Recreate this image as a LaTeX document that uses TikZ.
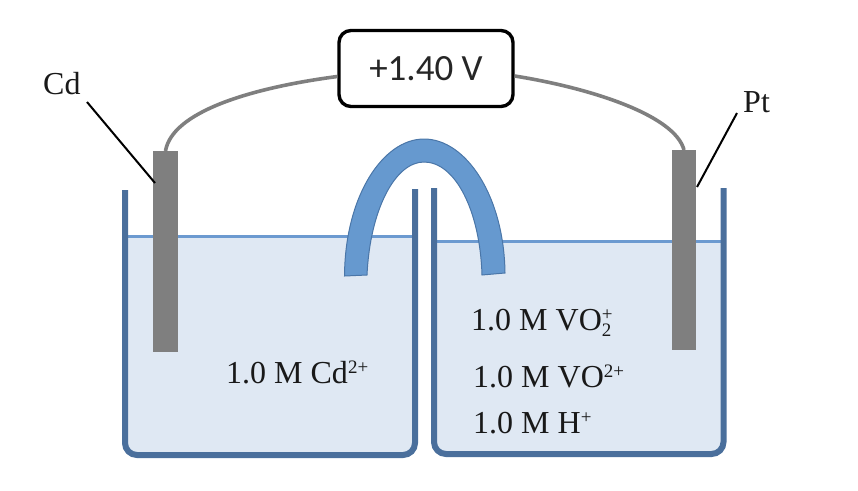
\documentclass[tikz,border=0pt]{standalone}
\usepackage{fontspec}
\setmainfont{Liberation Serif}
\newfontfamily\boxfont{Carlito}
\definecolor{wall}{HTML}{4A6F9C}
\definecolor{water}{HTML}{DFE8F3}
\definecolor{surf}{HTML}{6C9AD0}
\definecolor{bridge}{HTML}{6699CF}
\definecolor{bridgeedge}{HTML}{4A76A8}
\definecolor{metal}{HTML}{7F7F7F}
\tikzset{
 x=1pt,y=-1pt,
 beaker/.style={draw=wall,line width=6pt,rounded corners=12pt},
 liquid/.style={fill=water,draw=none,rounded corners=12pt},
 surface/.style={draw=surf,line width=3pt},
 electrode/.style={fill=metal,draw=none,inner sep=0pt,outer sep=0pt,minimum width=24.5pt,anchor=north},
 wire/.style={draw=metal,line width=3.6pt},
 pointer/.style={draw=black,line width=2pt},
 lab/.style={font=\fontsize{32}{32}\selectfont,inner sep=0pt,text=black!90,anchor=base west},
 meter/.style={draw=black,line width=3.4pt,rounded corners=12pt,fill=white,minimum width=174pt,minimum height=76pt,inner sep=0pt,text=black!85,font=\boxfont\fontsize{37}{37}\selectfont},
}
\newcommand{\ionup}[1]{\textsuperscript{\fontsize{19}{19}\selectfont #1}}
\begin{document}
\begin{tikzpicture}
\useasboundingbox (0,0) rectangle (858,490);
% liquids
\path[liquid] (125,236) [sharp corners] -- (415,236) [rounded corners=12pt] -- (415,455) -- (125,455) [sharp corners] -- cycle;
\path[liquid] (434,241) [sharp corners] -- (723.5,241) [rounded corners=12pt] -- (723.5,454) -- (434,454) [sharp corners] -- cycle;
\draw[surface] (126,236) -- (414,236);
\draw[surface] (435,241) -- (725,241);
% beakers
\draw[beaker] (125,190) -- (125,455) -- (415,455) -- (415,189);
\draw[beaker] (434,188) -- (434,454) -- (723.5,454) -- (723.5,188);
% salt bridge
\path[fill=bridge,draw=bridgeedge,line width=1pt]
  (344.5,276) .. controls (345,196) and (383,139) .. (424,139)
  .. controls (466,139) and (504,196) .. (505,273)
  -- (482,275) .. controls (480,210) and (455,162) .. (424,162)
  .. controls (395,162) and (370,210) .. (367,275) -- cycle;
% meter and electrodes
\node[meter] (volt) at (426,68.5) {+1.40 V};
\node[electrode,minimum height=201pt] (cd) at (165.5,151) {};
\node[electrode,minimum height=200pt] (pt) at (684,150) {};
% wires
\draw[wire] (cd.north) .. controls (172,112) and (250,88) .. (volt.west |- 0,76.5);
\draw[wire] (volt.east |- 0,76) .. controls (590,88) and (675,115) .. (pt.north);
% labels
\node[lab] (cdlab) at (43,94.5) {Cd};
\node[lab] (ptlab) at (743,112) {Pt};
\coordinate (cdtip) at (155,183);
\coordinate (pttip) at (697,187);
\coordinate (cdfree) at (87,102);
\coordinate (ptfree) at (737,113);
\draw[pointer] (cdfree) -- (cdtip);
\draw[pointer] (ptfree) -- (pttip);
\node[lab] (cdion) at (226,383) {1.0 M Cd\ionup{2+}};
\node[lab] (vo2) at (471,330) {1.0 M VO\rlap{\textsuperscript{\fontsize{19}{19}\selectfont +}}\raisebox{-6pt}{\fontsize{19}{19}\selectfont 2}};
\node[lab] (vo) at (473,387) {1.0 M VO\ionup{2+}};
\node[lab] (h) at (473,433) {1.0 M H\ionup{+}};
\end{tikzpicture}
\end{document}
